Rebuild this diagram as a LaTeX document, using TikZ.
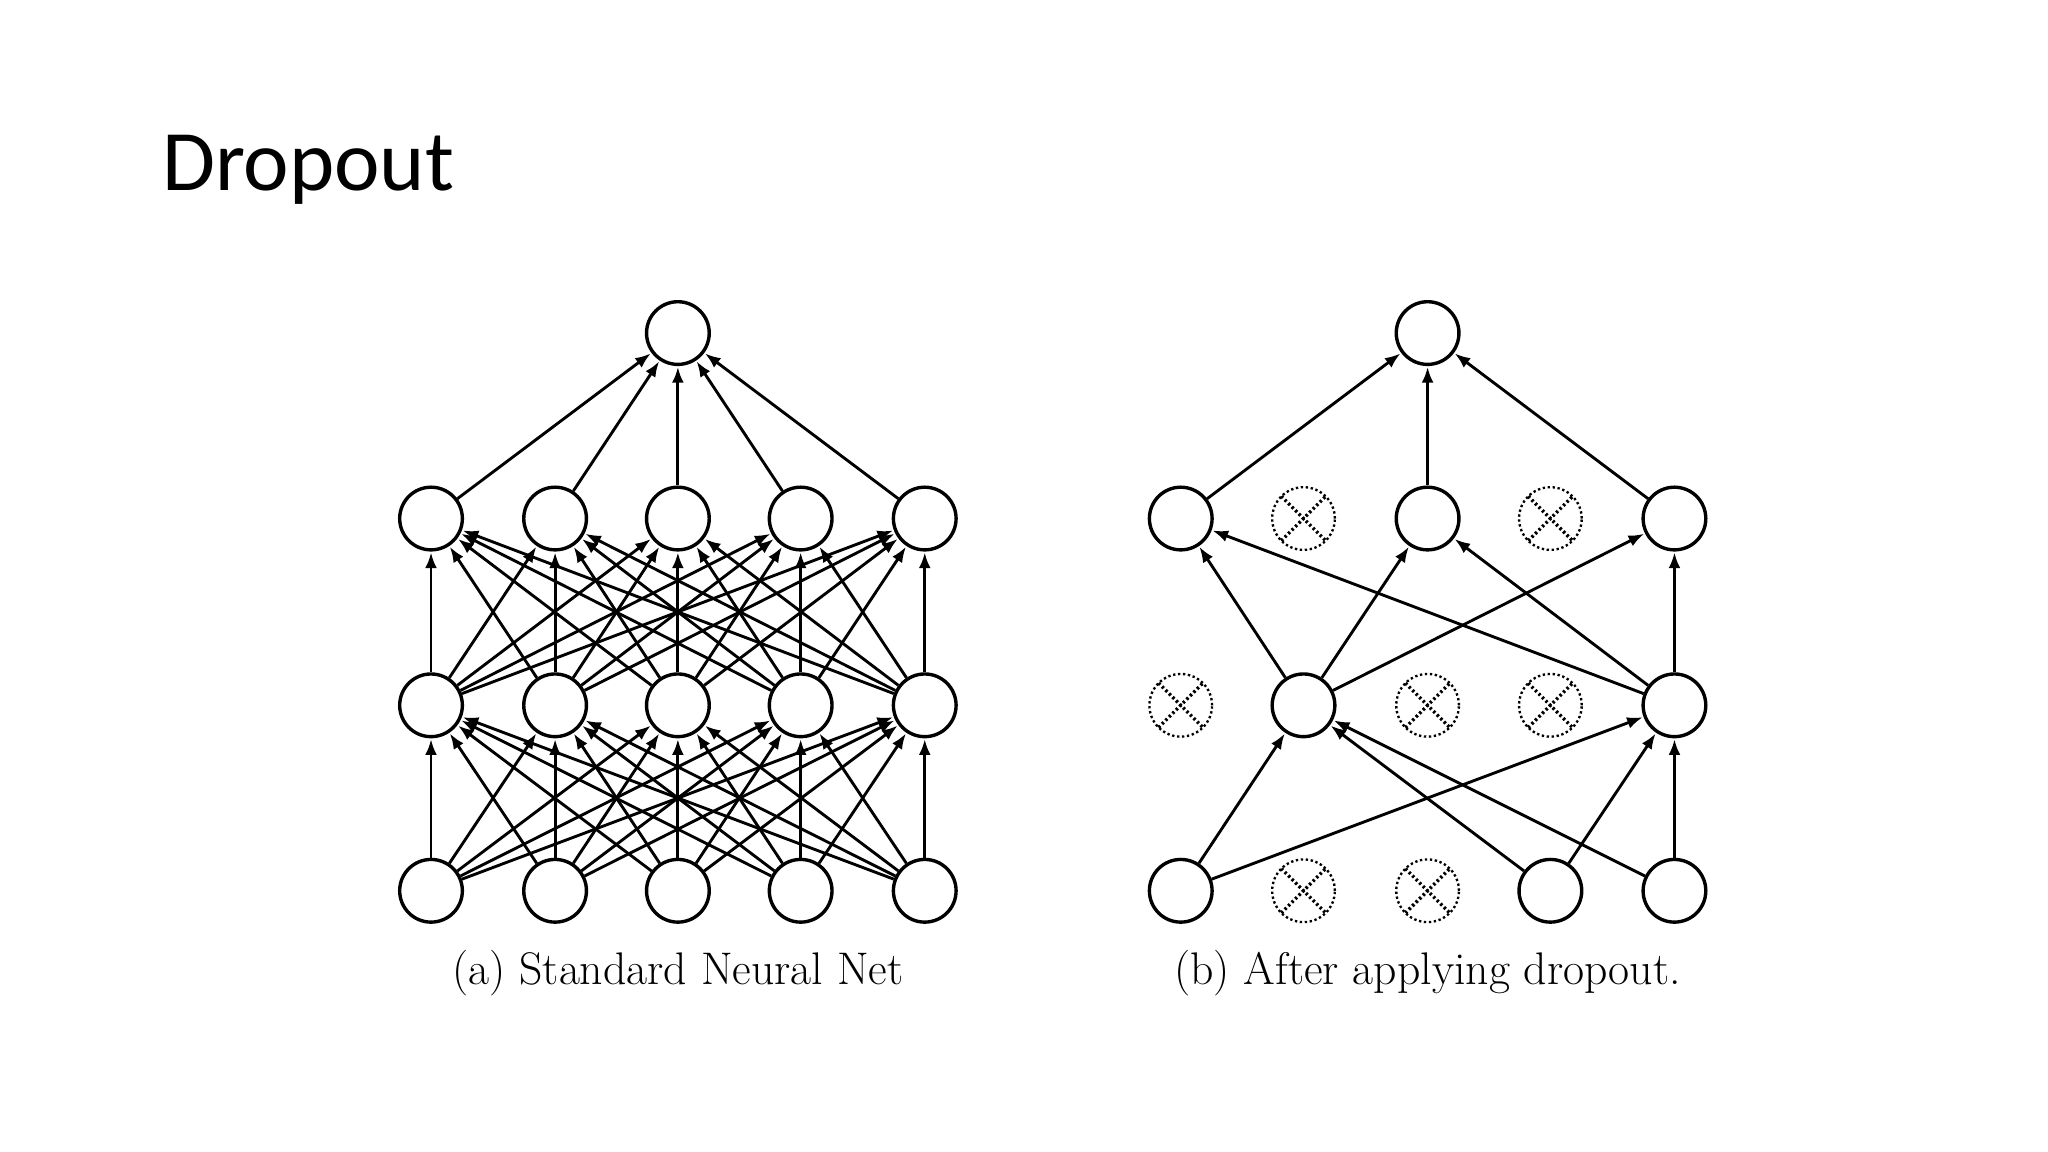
\documentclass[tikz,border=0pt]{standalone}
\usepackage{fontspec}
\usetikzlibrary{arrows.meta}
\newfontfamily\titlefont{Carlito}
\begin{document}
\begin{tikzpicture}[x=0.5pt,y=-0.5pt,
  neuron/.style={circle,draw,line width=1.3pt,minimum size=24pt,inner sep=0pt},
  dropn/.style={circle,draw,densely dotted,line width=0.9pt,minimum size=24pt,inner sep=0pt,
    path picture={\draw[line width=1.3pt] ([shift={(-8.5pt,-8.5pt)}]path picture bounding box.center)--([shift={(8.5pt,8.5pt)}]path picture bounding box.center);
    \draw[line width=1.3pt] ([shift={(-8.5pt,8.5pt)}]path picture bounding box.center)--([shift={(8.5pt,-8.5pt)}]path picture bounding box.center);}},
  conn/.style={-{Latex[length=6pt,width=4.5pt]},line width=1.1pt,shorten >=0.3pt}]
\useasboundingbox (0,0) rectangle (1568,882);
\fill[white] (0,0) rectangle (1568,882);
\node[anchor=west,font=\titlefont\fontsize{33}{40}\selectfont] (title) at (117,130) {Dropout};
% left network
\foreach \i/\x in {1/330,2/425,3/519,4/613,5/708}{
  \node[neuron] (a0\i) at (\x,682) {};
  \node[neuron] (a1\i) at (\x,540) {};
  \node[neuron] (a2\i) at (\x,397) {};
}
\node[neuron] (aout) at (519,255) {};
\foreach \i in {1,...,5}{\foreach \j in {1,...,5}{
  \draw[conn] (a0\i) -- (a1\j);
  \draw[conn] (a1\i) -- (a2\j);}
  \draw[conn] (a2\i) -- (aout);}
\node[font=\fontsize{17.5}{20}\selectfont] (capa) at (519,745) {(a) Standard Neural Net};
% right network
\node[neuron] (b01) at (904,682) {};
\node[dropn] (b02) at (998,682) {};
\node[dropn] (b03) at (1093,682) {};
\node[neuron] (b04) at (1187,682) {};
\node[neuron] (b05) at (1282,682) {};
\node[dropn] (b11) at (904,540) {};
\node[neuron] (b12) at (998,540) {};
\node[dropn] (b13) at (1093,540) {};
\node[dropn] (b14) at (1187,540) {};
\node[neuron] (b15) at (1282,540) {};
\node[neuron] (b21) at (904,397) {};
\node[dropn] (b22) at (998,397) {};
\node[neuron] (b23) at (1093,397) {};
\node[dropn] (b24) at (1187,397) {};
\node[neuron] (b25) at (1282,397) {};
\node[neuron] (bout) at (1093,255) {};
\foreach \i in {1,4,5}{\foreach \j in {2,5}{\draw[conn] (b0\i) -- (b1\j);}}
\foreach \i in {2,5}{\foreach \j in {1,3,5}{\draw[conn] (b1\i) -- (b2\j);}}
\foreach \i in {1,3,5}{\draw[conn] (b2\i) -- (bout);}
\node[font=\fontsize{17.5}{20}\selectfont] (capb) at (1093,745) {(b) After applying dropout.};
\end{tikzpicture}
\end{document}
